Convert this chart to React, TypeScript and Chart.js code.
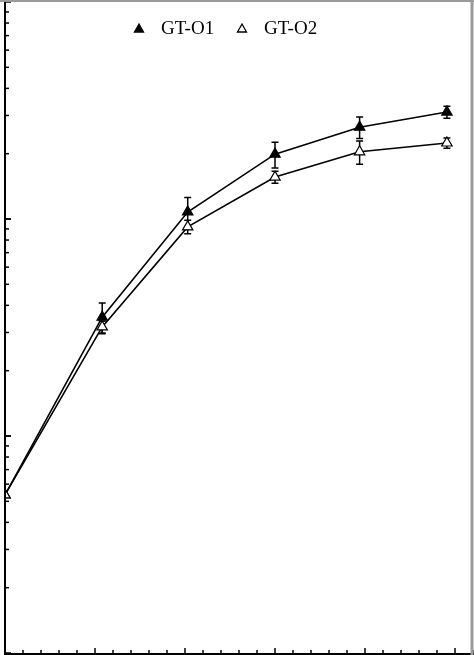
import React, { useEffect, useRef } from "react";
import { Chart, registerables } from "chart.js";

Chart.register(...registerables);

const xValues = [0, 1.08, 2.03, 3.0, 3.94, 4.91];
const seriesNames = ["GT-O1", "GT-O2"];
const gtO1 = [5.35, 35.3, 107.7, 199, 265, 311];
const gtO1Err = [0, 5.7, 18, 27, 30, 20];
const gtO2 = [5.35, 31.8, 92, 156, 204, 224];
const gtO2Err = [0, 2, 6.6, 10, 25, 12];

const yMin = 1;
const yMax = 1000;
const xMin = 0;
const xMax = 5.211;

const axesPlugin = {
  id: "customAxes",
  afterDraw(chart: any) {
    const ctx = chart.ctx;
    const { left, right, top, bottom } = chart.chartArea;
    const xs = chart.scales.x;
    const ys = chart.scales.y;
    ctx.save();
    ctx.strokeStyle = "#000";
    ctx.lineWidth = 2;
    ctx.beginPath();
    ctx.moveTo(left, top - 2);
    ctx.lineTo(left, bottom + 1);
    ctx.lineTo(right, bottom + 1);
    ctx.stroke();
    ctx.lineWidth = 1.5;
    for (let d = yMin; d < yMax; d *= 10) {
      for (let k = 1; k <= 10; k++) {
        const v = d * k;
        if (v > yMax) continue;
        const py = ys.getPixelForValue(v);
        const len = k === 1 || k === 10 ? 6 : 4;
        ctx.beginPath();
        ctx.moveTo(left, py);
        ctx.lineTo(left + len, py);
        ctx.stroke();
      }
    }
    for (let i = 0; i * 0.2 <= xMax + 1e-6; i++) {
      const v = i * 0.2;
      const px = xs.getPixelForValue(v);
      const len = i % 5 === 0 ? 6 : 4;
      ctx.beginPath();
      ctx.moveTo(px, bottom + 1);
      ctx.lineTo(px, bottom + 1 - len);
      ctx.stroke();
    }
    ctx.strokeStyle = "#9a9a9a";
    ctx.lineWidth = 2;
    ctx.beginPath();
    ctx.moveTo(0, 1);
    ctx.lineTo(chart.width, 1);
    ctx.stroke();
    ctx.lineWidth = 3;
    ctx.beginPath();
    ctx.moveTo(chart.width - 2, 0);
    ctx.lineTo(chart.width - 2, chart.height);
    ctx.stroke();
    ctx.restore();
  },
};

const errorBarPlugin = {
  id: "errorBars",
  beforeDatasetsDraw(chart: any) {
    const ctx = chart.ctx;
    const xs = chart.scales.x;
    const ys = chart.scales.y;
    const sets = [
      { vals: gtO1, errs: gtO1Err },
      { vals: gtO2, errs: gtO2Err },
    ];
    ctx.save();
    ctx.strokeStyle = "#000";
    ctx.lineWidth = 1.5;
    sets.forEach((s) => {
      s.vals.forEach((v, i) => {
        const e = s.errs[i];
        if (!e) return;
        const px = xs.getPixelForValue(xValues[i]);
        const y1 = ys.getPixelForValue(v + e);
        const y2 = ys.getPixelForValue(v - e);
        ctx.beginPath();
        ctx.moveTo(px, y1);
        ctx.lineTo(px, y2);
        ctx.moveTo(px - 3.5, y1);
        ctx.lineTo(px + 3.5, y1);
        ctx.moveTo(px - 3.5, y2);
        ctx.lineTo(px + 3.5, y2);
        ctx.stroke();
      });
    });
    ctx.restore();
  },
};

const legendPlugin = {
  id: "customLegend",
  afterDraw(chart: any) {
    const ctx = chart.ctx;
    ctx.save();
    const items = [
      { name: seriesNames[0], tx: 139, lx: 161, fill: "#000" },
      { name: seriesNames[1], tx: 242, lx: 264, fill: "#fff" },
    ];
    const cy = 29;
    items.forEach((it) => {
      ctx.beginPath();
      ctx.moveTo(it.tx, cy - 5);
      ctx.lineTo(it.tx + 4.5, cy + 3);
      ctx.lineTo(it.tx - 4.5, cy + 3);
      ctx.closePath();
      ctx.fillStyle = it.fill;
      ctx.fill();
      ctx.strokeStyle = "#000";
      ctx.lineWidth = 1.3;
      ctx.stroke();
      ctx.fillStyle = "#000";
      ctx.font = '19px "Liberation Serif", "DejaVu Serif", serif';
      ctx.textBaseline = "middle";
      ctx.textAlign = "left";
      ctx.fillText(it.name, it.lx, cy);
    });
    ctx.restore();
  },
};

export default function App() {
  const ref = useRef<HTMLCanvasElement | null>(null);
  useEffect(() => {
    if (!ref.current) return;
    const chart = new Chart(ref.current, {
      type: "line",
      data: {
        datasets: [
          {
            label: seriesNames[0],
            data: xValues.map((x, i) => ({ x, y: gtO1[i] })),
            borderColor: "#000",
            borderWidth: 1.6,
            pointStyle: "triangle",
            pointRadius: 6,
            pointBackgroundColor: "#000",
            pointBorderColor: "#000",
            pointBorderWidth: 1.2,
            order: 1,
          },
          {
            label: seriesNames[1],
            data: xValues.map((x, i) => ({ x, y: gtO2[i] })),
            borderColor: "#000",
            borderWidth: 1.6,
            pointStyle: "triangle",
            pointRadius: 6,
            pointBackgroundColor: "#fff",
            pointBorderColor: "#000",
            pointBorderWidth: 1.2,
            order: 0,
          },
        ],
      },
      options: {
        animation: false,
        responsive: false,
        layout: { autoPadding: false, padding: { left: 5, top: 2, right: 0, bottom: 2 } },
        plugins: { legend: { display: false }, tooltip: { enabled: false } },
        scales: {
          x: { type: "linear", display: false, min: xMin, max: xMax },
          y: { type: "logarithmic", display: false, min: yMin, max: yMax },
        },
      },
      plugins: [errorBarPlugin, axesPlugin, legendPlugin],
    });
    return () => chart.destroy();
  }, []);
  return (
    <div style={{ position: "fixed", left: 0, top: 0, width: 474, height: 655, background: "#fff" }}>
      <canvas ref={ref} width={474} height={655} />
    </div>
  );
}
